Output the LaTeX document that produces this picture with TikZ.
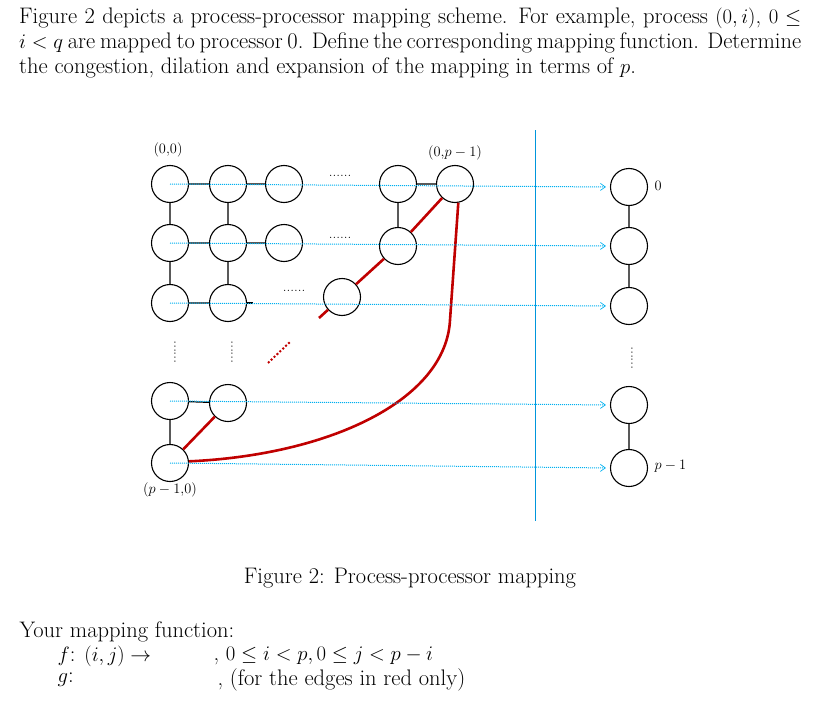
\documentclass[tikz,border=0pt]{standalone}
\usetikzlibrary{arrows.meta}
\definecolor{redline}{RGB}{192,0,0}
\definecolor{mapblue}{RGB}{0,176,240}
\definecolor{sepblue}{RGB}{0,150,220}
\begin{document}
\begin{tikzpicture}[x=1pt,y=-1pt,
  pn/.style={circle,draw,line width=1.1pt,minimum size=37pt,inner sep=0pt},
  ed/.style={line width=1.2pt},
  redl/.style={draw=redline,line width=2.6pt},
  map/.style={draw=mapblue,densely dotted,line width=1pt,shorten >=4pt,-{Straight Barb[length=5pt,width=7pt,line width=0.7pt]}},
  sm/.style={font=\fontsize{15}{17}\selectfont},
  big/.style={font=\fontsize{22.5}{25}\selectfont}]
\useasboundingbox (0,0) rectangle (818,706);
\node[big,anchor=north west,text width=782pt,align=justify,inner sep=0] (para) at (19,8)
 {Figure 2 depicts a process-processor mapping scheme. For example, process $(0,i)$, $0\le i<q$ are mapped to processor 0. Define the corresponding mapping function. Determine the congestion, dilation and expansion of the mapping in terms of $p$.};
% nodes
\node[pn] (a00) at (170,184) {}; \node[pn] (a01) at (228,184) {}; \node[pn] (a02) at (284,184) {};
\node[pn] (a0q) at (398,184) {}; \node[pn] (a0p) at (455,184) {};
\node[pn] (a10) at (170,243) {}; \node[pn] (a11) at (228,243) {}; \node[pn] (a12) at (284,243) {};
\node[pn] (a1p) at (398,246) {};
\node[pn] (a20) at (170,303) {}; \node[pn] (a21) at (228,303) {};
\node[pn] (a2p) at (342,297) {};
\node[pn] (a30) at (170,401) {}; \node[pn] (a31) at (228,403) {};
\node[pn] (a40) at (170,463) {};
\node[pn] (r0) at (629,187) {}; \node[pn] (r1) at (629,246) {}; \node[pn] (r2) at (629,306) {};
\node[pn] (r3) at (629,405) {}; \node[pn] (r4) at (629,468) {};
% black edges
\draw[ed] (a00)--(a01) (a01)--(a02) (a0q)--(a0p) (a10)--(a11) (a11)--(a12) (a20)--(a21)
 (a00)--(a10) (a10)--(a20) (a01)--(a11) (a11)--(a21) (a0q)--(a1p) (a30)--(a31) (a30)--(a40)
 (r0)--(r1) (r1)--(r2) (r3)--(r4);
\coordinate (stub) at (253,303); \draw[ed] (a21)--(stub);
% red edges
\coordinate (rs) at (319,318);
\draw[redl] (a0p)--(a1p) (a1p)--(a2p) (a2p)--(rs) (a31)--(a40);
\draw[redl] (a0p.-80) -- (450,320) .. controls (446,400) and (330,455) .. (a40.5);
\coordinate (rd1) at (268,363); \coordinate (rd2) at (291,341);
\draw[redline,line width=2pt,dotted] (rd1)--(rd2);
% labels
\node[sm] (l00) at (168,150) {$(0{,}0)$};
\node[sm] (l0p) at (455,153) {$(0{,}p-1)$};
\node[sm] (lp0) at (170,490) {$(p-1{,}0)$};
\node[sm,anchor=west] (lr0) at (651,186) {$0$};
\node[sm,anchor=west] (lr4) at (651,466) {$p-1$};
\node[sm] (d1) at (340,176) {......};
\node[sm] (d2) at (340,238) {......};
\node[sm] (d3) at (294,291) {......};
\node[sm,rotate=90] (v1) at (175,352) {......};
\node[sm,rotate=90] (v2) at (232,352) {......};
\node[sm,rotate=90] (v3) at (632,358) {......};
% separator and mapping arrows
\coordinate (st) at (535,130); \coordinate (sb) at (535,521);
\draw[draw=sepblue,line width=0.7pt] (st)--(sb);
\draw[map] (a00.center)--(r0.west);
\draw[map] (a10.center)--(r1.west);
\draw[map] (a20.center)--(r2.west);
\draw[map] (a30.center)--(r3.west);
\draw[map] (a40.center)--(r4.west);
% caption and answer text
\node[big] (cap) at (410,578) {Figure 2: Process-processor mapping};
\node[big,anchor=west] (t1) at (16,632) {Your mapping function:};
\node[big,anchor=west] (t2) at (54,656) {$f$: $(i,j)\rightarrow$};
\node[big,anchor=west] (t3) at (210,656) {, $0\le i<p, 0\le j<p-i$};
\node[big,anchor=west] (t4) at (54,680) {$g$:};
\node[big,anchor=west] (t5) at (214,680) {, (for the edges in red only)};
\end{tikzpicture}
\end{document}
